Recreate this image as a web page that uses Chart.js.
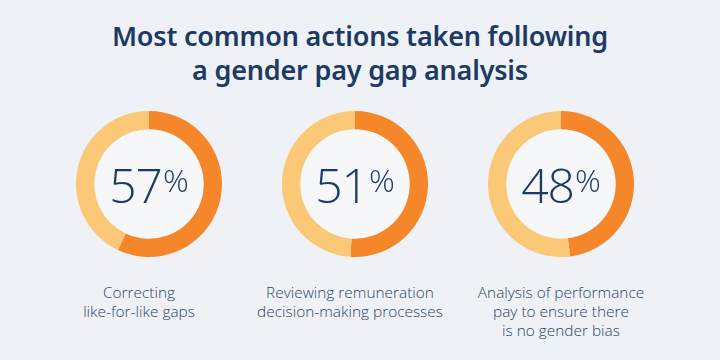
<!DOCTYPE html>
<html>
<head>
<meta charset="utf-8">
<script src="https://cdn.jsdelivr.net/npm/chart.js@4"></script>
<style>
  html, body { margin: 0; padding: 0; }
  body { width: 720px; height: 360px; background: #eef2f6; position: relative; overflow: hidden; font-family: "Noto Sans", "Open Sans", sans-serif; }
  #title { position: absolute; left: 0; top: 19px; width: 720px; text-align: center; color: #1c3a63; font-size: 27px; font-weight: 600; line-height: 34px; letter-spacing: -0.2px; }
  .cell { position: absolute; top: 104px; width: 160px; height: 160px; }
  .cell canvas { position: absolute; left: 0; top: 0; }
  .num { position: absolute; left: 0; top: 0; width: 160px; height: 160px; display: flex; align-items: center; justify-content: center; color: #1c3a63; font-family: "Open Sans", "Noto Sans", sans-serif; font-weight: 300; font-size: 48px; pointer-events: none; }
  .num span.v { letter-spacing: -1px; }
  .num span.p { font-size: 32px; position: relative; top: -5px; margin-left: 1px; }
  .lbl { position: absolute; top: 283px; width: 240px; text-align: center; color: #2a4468; font-size: 15.4px; font-weight: 300; line-height: 19px; font-family: "Open Sans", "Noto Sans", sans-serif; }
</style>
</head>
<body>
<div id="title">Most common actions taken following<br>a gender pay gap analysis</div>
<div id="charts"></div>
<script>
const categories = ["Correcting\nlike-for-like gaps", "Reviewing remuneration\ndecision-making processes", "Analysis of performance\npay to ensure there\nis no gender bias"];
const values = [57, 51, 48];
const centersX = [149, 355, 561];
const labelCentersX = [139, 350, 561];
const colors = ["#f5872a", "#fbc878"];

const innerFill = {
  id: 'innerFill',
  beforeDatasetsDraw(chart) {
    const arc = chart.getDatasetMeta(0).data[0];
    if (!arc) return;
    const ctx = chart.ctx;
    ctx.save();
    ctx.beginPath();
    ctx.arc(arc.x, arc.y, arc.innerRadius, 0, Math.PI * 2);
    ctx.fillStyle = '#f6f7f9';
    ctx.fill();
    ctx.restore();
  }
};

const host = document.getElementById('charts');
values.forEach((v, i) => {
  const cell = document.createElement('div');
  cell.className = 'cell';
  cell.style.left = (centersX[i] - 80) + 'px';
  const cv = document.createElement('canvas');
  cv.width = 160; cv.height = 160;
  cell.appendChild(cv);
  const num = document.createElement('div');
  num.className = 'num';
  num.innerHTML = '<span class="v">' + v + '</span><span class="p">%</span>';
  cell.appendChild(num);
  host.appendChild(cell);

  const lbl = document.createElement('div');
  lbl.className = 'lbl';
  lbl.style.left = (labelCentersX[i] - 120) + 'px';
  lbl.innerHTML = categories[i].split('\n').join('<br>');
  host.appendChild(lbl);

  new Chart(cv, {
    type: 'doughnut',
    data: {
      labels: ['Yes', 'No'],
      datasets: [{ data: [v, 100 - v], backgroundColor: colors, borderWidth: 0 }]
    },
    options: {
      responsive: false,
      animation: false,
      cutout: '75%',
      radius: 73,
      layout: { padding: 0 },
      plugins: { legend: { display: false }, tooltip: { enabled: false } }
    },
    plugins: [innerFill]
  });
});
</script>
</body>
</html>
